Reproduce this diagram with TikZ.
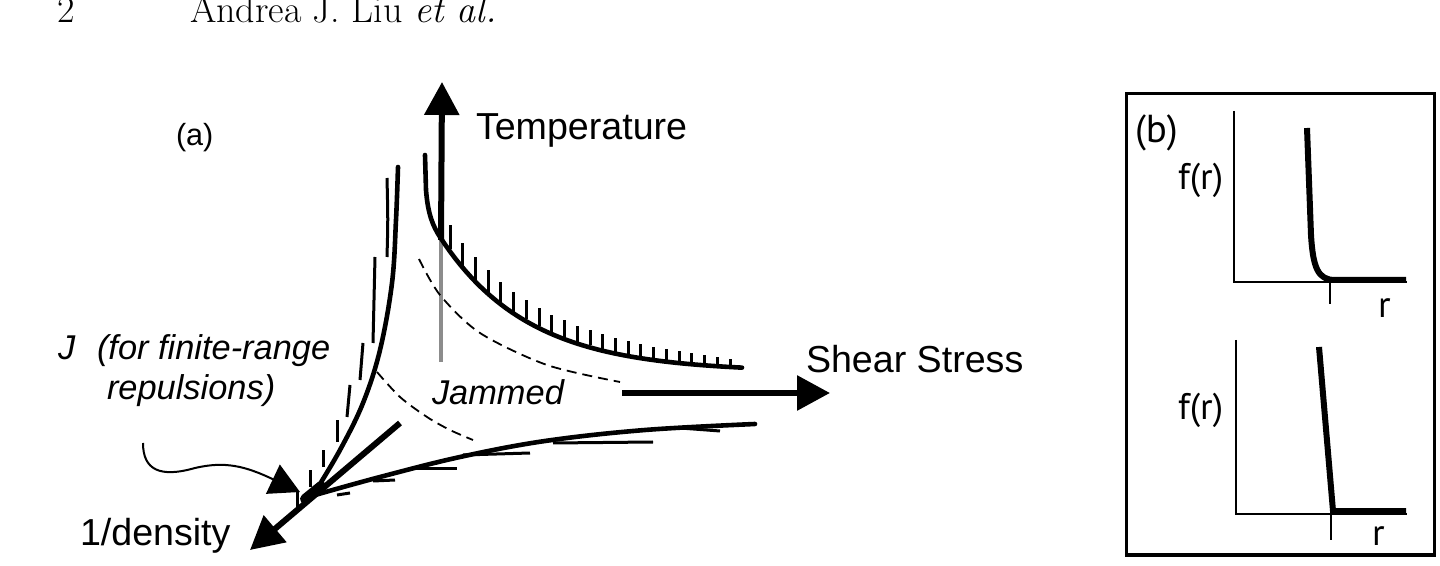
\documentclass[tikz,border=0pt]{standalone}
\usepackage{fontspec}
\newfontfamily\arialf{Liberation Sans}
\newfontfamily\myr{PT Sans}
\usetikzlibrary{arrows.meta}
\begin{document}
\begin{tikzpicture}[x=0.5pt,y=-0.5pt,
  lbl/.style={inner sep=0pt,outer sep=0pt,anchor=base west},
  hdr/.style={lbl,font=\fontsize{19}{23}\selectfont},
  axlbl/.style={lbl,font=\arialf\fontsize{18.8}{22}\selectfont},
  itlbl/.style={lbl,font=\arialf\itshape\fontsize{17.2}{20}\selectfont},
  blbl/.style={lbl,font=\myr\fontsize{18.5}{21}\selectfont},
  wall/.style={line width=2.3pt,line cap=round},
  hatch/.style={line width=1.5pt},
  axisarrow/.style={line width=3pt,-{Triangle[length=16.5pt,width=17pt]}},
  dashline/.style={line width=0.9pt,dash pattern=on 5pt off 3pt},
  thinax/.style={line width=1pt},
  thickcurve/.style={line width=3pt,line join=round},
  greyaxis/.style={line width=2.4pt,draw=black!45}]
\useasboundingbox (0,0) rectangle (1440,566);

% header
\node[hdr] (pg) at (57,23) {2};
\node[hdr] (auth) at (190,23) {Andrea J. Liu \textit{et al.}};

% ---------- panel (a) ----------
\coordinate (Tbase) at (441,240);
\coordinate (Ttip) at (442,82);
\coordinate (Tlow) at (441,362);
\coordinate (Sstart) at (622,393);
\coordinate (Stip) at (830,393);
\coordinate (Dstart) at (400,423);
\coordinate (Dtip) at (250,550);
\coordinate (J) at (313,492);
\coordinate (Cstart) at (143,443);
\coordinate (Ctip) at (300,492);

% grey lower part of temperature axis
\draw[greyaxis] (Tbase) -- (Tlow);

% dashed crossover lines
\draw[dashline] plot[smooth] coordinates {(419,259) (440,295) (480,333) (547,365) (620,382)};
\draw[dashline] plot[smooth] coordinates {(377,372) (400,397) (427,417) (450,430) (473,440)};

% top-right wall (temperature / shear stress)
\draw[wall] (425,155) -- (426,190) .. controls (428,215) and (433,226) .. (440,237)
  -- plot[domain=440:742,samples=60] (\x,{372-135*exp(-(\x-440)/88)});
\foreach \i in {0,...,22}{
  \pgfmathsetmacro\tx{450+\i*12.73}
  \pgfmathsetmacro\ty{372-135*exp(-(\tx-440)/88)}
  \pgfmathsetmacro\th{26-\i*0.8}
  \draw[hatch] (\tx,\ty-2) -- (\tx,\ty-\th);
}

% left wall (temperature / density)
\draw[wall] plot[smooth,tension=0.6] coordinates {(398,167) (396,220) (392,283) (380,350) (363,403) (340,450) (315,492)};
\draw[hatch] (297,507) -- (297,492);
\draw[hatch] (310,487) -- (310,470);
\draw[hatch] (323,467) -- (323,450);
\draw[hatch] (337,442) -- (337,420);
\draw[hatch] (347,417) -- (350,385);
\draw[hatch] (360,380) -- (363,343);
\draw[hatch] (373,343) -- (375,257);
\draw[hatch] (387,257) .. controls (388,220) .. (387,178);

% bottom wall (shear stress / density)
\draw[wall] plot[smooth,tension=0.6] coordinates {(315,495) (380,477) (460,457) (545,441) (645,430) (755,424)};
\draw[hatch] (337,495) -- (350,493);
\draw[hatch] (373,481) -- (395,480);
\draw[hatch] (417,468) -- (457,468);
\draw[hatch] (463,455) -- (530,453);
\draw[hatch] (553,443) -- (653,442);
\draw[hatch] (680,428) -- (720,431);

% axes
\draw[axisarrow] (Tbase) -- (Ttip);
\draw[axisarrow] (Sstart) -- (Stip);
\draw[axisarrow] (Dstart) -- (Dtip);
\draw[line width=5pt,line cap=round] (305,499) -- (321,486);

% curly pointer to J
\draw[line width=1pt,-{Triangle[length=15pt,width=16pt]}] (Cstart) .. controls (143,470) and (160,478) .. (195,468) .. controls (225,461) and (245,466) .. (Ctip);

% labels
\node[lbl,font=\arialf\fontsize{15.3}{18}\selectfont] (la) at (176,146) {(a)};
\node[axlbl] (temp) at (476,140) {Temperature};
\node[axlbl] (shear) at (806,373) {Shear Stress};
\node[axlbl] (dens) at (80,545) {1/density};
\node[itlbl] (jl) at (58,360) {J};
\node[itlbl] (jl2) at (97,360) {(for finite-range};
\node[itlbl] (jl3) at (107,400) {repulsions)};
\node[itlbl] (jam) at (432,405) {Jammed};

% ---------- panel (b) ----------
\draw[line width=1.8pt] (1126.5,93.5) rectangle (1434.5,555);
\node[lbl,font=\myr\fontsize{19.5}{22}\selectfont] (lb) at (1135,143) {(b)};

% top plot
\coordinate (o1) at (1234,282);
\draw[thinax] (1234,111) -- (o1) -- (1407,282);
\draw[thinax] (1330,282) -- (1330,304);
\draw[thickcurve] (1307,128) -- (1311,235) .. controls (1313,268) and (1318,280) .. (1335,280) -- (1406,280);
\node[blbl] (f1) at (1178,190) {f(r)};
\node[blbl] (r1) at (1378,318) {r};

% bottom plot
\coordinate (o2) at (1236,514);
\draw[thinax] (1236,340) -- (o2) -- (1407,514);
\draw[thinax] (1331,510) -- (1331,540);
\draw[thickcurve] (1319,347) -- (1333,511) -- (1406,511);
\node[blbl] (f2) at (1178,420) {f(r)};
\node[blbl] (r2) at (1372,545) {r};
\end{tikzpicture}
\end{document}
